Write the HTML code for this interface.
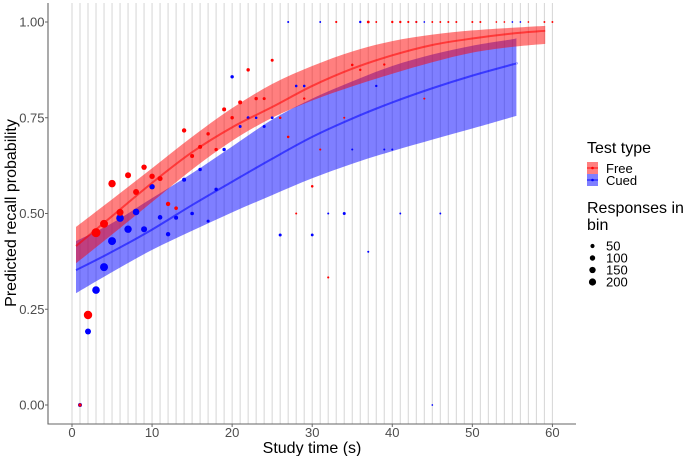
<!DOCTYPE html>
<html>
<head>
<meta charset="utf-8">
<style>
html,body{margin:0;padding:0;background:#fff;}
svg{display:block;font-family:"Liberation Sans",sans-serif;}
</style>
</head>
<body>
<svg id="chart" width="685" height="456" viewBox="0 0 685 456" xmlns="http://www.w3.org/2000/svg">
<rect width="685" height="456" fill="#fff"/>
<g id="grid"></g>
<g id="bands"></g>
<g id="points"></g>
<g id="lines"></g>
<g id="axes"></g>
<text x="312" y="453" font-size="16" text-anchor="middle" fill="#000">Study time (s)</text>
<text transform="translate(16,213) rotate(-90)" font-size="16" text-anchor="middle" fill="#000">Predicted recall probability</text>
<g>
<text x="587" y="153" font-size="16" fill="#000">Test type</text>
<rect x="587" y="162" width="11" height="12" fill="#ff0000" fill-opacity="0.5"/>
<line x1="587" x2="598" y1="168" y2="168" stroke="#ff0000" stroke-opacity="0.6" stroke-width="1.5"/>
<circle cx="592.5" cy="168" r="1.3" fill="#ff0000"/>
<text x="606" y="173" font-size="13" fill="#000">Free</text>
<rect x="587" y="174" width="11" height="12" fill="#0000ff" fill-opacity="0.5"/>
<line x1="587" x2="598" y1="180" y2="180" stroke="#0000ff" stroke-opacity="0.6" stroke-width="1.5"/>
<circle cx="592.5" cy="180" r="1.3" fill="#0000ff"/>
<text x="606" y="185" font-size="13" fill="#000">Cued</text>
</g>
<g id="size-legend">
<text x="587" y="213" font-size="16" fill="#000">Responses in</text>
<text x="587" y="230" font-size="16" fill="#000">bin</text>
</g>
<script>
// Axis tick labels
var xTicks = [0, 10, 20, 30, 40, 50, 60];
var yTicks = [0, 0.25, 0.5, 0.75, 1];
var gridSeconds = [0,1,2,3,4,5,6,7,8,9,10,11,12,13,14,15,16,17,18,19,20,21,22,23,24,25,26,27,28,29,30,31,32,33,34,35,36,37,38,39,40,41,42,43,44,45,46,47,48,49,50,51,52,53,54,55,56,57,58,59,60];

// Free-recall fit
var freeCurveTime = [0.5,5,10,15,20,25,30,35,40,45,50,55,59.1];
var freeCurveFit = [0.415,0.493,0.58,0.66,0.725,0.778,0.833,0.878,0.913,0.94,0.957,0.97,0.977];
var freeCurveUpper = [0.465,0.537,0.618,0.7,0.775,0.838,0.885,0.923,0.95,0.967,0.978,0.985,0.99];
var freeCurveLower = [0.37,0.445,0.53,0.615,0.69,0.75,0.795,0.832,0.865,0.895,0.92,0.935,0.943];

// Cued-recall fit
var cuedCurveTime = [0.5,5,10,15,20,25,30,35,40,45,50,55,55.5];
var cuedCurveFit = [0.352,0.4,0.458,0.522,0.583,0.643,0.7,0.748,0.79,0.827,0.86,0.889,0.891];
var cuedCurveUpper = [0.428,0.475,0.54,0.605,0.675,0.745,0.8,0.845,0.885,0.915,0.938,0.955,0.958];
var cuedCurveLower = [0.292,0.347,0.405,0.455,0.503,0.548,0.592,0.63,0.663,0.693,0.722,0.752,0.755];

// Free-recall bins
var freeTime = [1,2,3,4,5,6,7,8,9,10,11,12,13,14,15,16,17,18,19,20,21,22,23,24,25,26,27,28,29,30,31,32,33,34,35,36,37,38,39,40,41,42,43,44,45,46,47,48,50,51,53,54,57,59,60];
var freeProb = [0,0.235,0.45,0.473,0.578,0.503,0.6,0.556,0.621,0.597,0.591,0.525,0.514,0.717,0.65,0.674,0.708,0.667,0.772,0.75,0.79,0.875,0.8,0.8,0.9,0.75,0.7,0.5,0.8,0.571,0.667,0.333,1,0.75,0.888,0.875,1,1,0.889,1,1,1,1,0.8,1,1,1,1,1,1,1,1,1,1,1];
var freeCount = [17,225,264,200,167,146,100,100,77,77,63,44,25,44,34,34,21,21,34,21,34,21,21,14,14,8,8,3,6,8,4,4,4,3,8,6,11,2,6,6,6,4,4,3,2,2,3,3,3,3,1,1,1,2,2];

// Cued-recall bins
var cuedTime = [1,2,3,4,5,6,7,8,9,10,11,12,13,14,15,16,17,18,19,20,21,22,23,24,25,26,27,28,29,30,31,32,34,35,36,37,38,39,40,41,43,44,45,46,55,56];
var cuedProb = [0,0.192,0.3,0.36,0.428,0.488,0.459,0.504,0.459,0.57,0.49,0.446,0.489,0.588,0.5,0.615,0.48,0.563,0.667,0.857,0.727,0.75,0.75,0.727,0.75,0.444,1,0.833,0.833,0.444,1,0.5,0.5,0.667,1,0.4,0.833,0.667,0.667,0.5,1,1,0,0.5,1,1];
var cuedCount = [34,100,178,200,200,178,167,127,100,77,50,44,34,34,25,21,14,21,21,21,14,14,8,14,11,14,3,8,8,11,2,3,14,3,6,3,6,3,3,2,2,1,1,2,1,1];

// Legend sizes
var legendSizes = [50, 100, 150, 200];

var SVGNS = 'http://www.w3.org/2000/svg';
function xScale(t){ return 72 + t * 8.007; }
function yScale(p){ return 405 - p * 383; }
function rScale(n){ return 0.6 + 0.24 * Math.sqrt(n); }
function make(tag, parentId, attrs){
  var el = document.createElementNS(SVGNS, tag);
  for (var k in attrs) el.setAttribute(k, attrs[k]);
  document.getElementById(parentId).appendChild(el);
  return el;
}
// Smooth Catmull-Rom curve through the screen positions of the data samples
function splineSegments(ts, vs){
  var pts = ts.map(function(t, i){ return [xScale(t), yScale(vs[i])]; });
  var d = '';
  for (var i = 0; i < pts.length - 1; i++){
    var p0 = pts[Math.max(i - 1, 0)], p1 = pts[i], p2 = pts[i + 1], p3 = pts[Math.min(i + 2, pts.length - 1)];
    var c1x = p1[0] + (p2[0] - p0[0]) / 6, c1y = p1[1] + (p2[1] - p0[1]) / 6;
    var c2x = p2[0] - (p3[0] - p1[0]) / 6, c2y = p2[1] - (p3[1] - p1[1]) / 6;
    d += 'C' + c1x.toFixed(2) + ' ' + c1y.toFixed(2) + ' ' + c2x.toFixed(2) + ' ' + c2y.toFixed(2) + ' ' + p2[0].toFixed(2) + ' ' + p2[1].toFixed(2);
  }
  return d;
}
function linePath(ts, vs){
  return 'M' + xScale(ts[0]).toFixed(2) + ' ' + yScale(vs[0]).toFixed(2) + splineSegments(ts, vs);
}
function bandPath(ts, up, lo){
  var rt = ts.slice().reverse(), rl = lo.slice().reverse();
  return linePath(ts, up) + 'L' + xScale(rt[0]).toFixed(2) + ' ' + yScale(rl[0]).toFixed(2) + splineSegments(rt, rl) + 'Z';
}

gridSeconds.forEach(function(s){
  var g = make('line', 'grid', {x1: xScale(s), x2: xScale(s), y1: 3, y2: 424, stroke: '#d9d9d9', 'stroke-width': 1.1});
  
  
});

var cuedBand = make('path', 'bands', {d: bandPath(cuedCurveTime, cuedCurveUpper, cuedCurveLower), fill: '#0000ff', 'fill-opacity': 0.5});


var freeBand = make('path', 'bands', {d: bandPath(freeCurveTime, freeCurveUpper, freeCurveLower), fill: '#ff0000', 'fill-opacity': 0.5});



cuedTime.forEach(function(t, i){
  var c = make('circle', 'points', {cx: xScale(t), cy: yScale(cuedProb[i]), r: rScale(cuedCount[i]), fill: '#0000ff'});
  
  
});
freeTime.forEach(function(t, i){
  var c = make('circle', 'points', {cx: xScale(t), cy: yScale(freeProb[i]), r: rScale(freeCount[i]), fill: '#ff0000'});
  
  
});

var cuedLine = make('path', 'lines', {d: linePath(cuedCurveTime, cuedCurveFit), fill: 'none', stroke: '#0000ff', 'stroke-opacity': 0.55, 'stroke-width': 2});


var freeLine = make('path', 'lines', {d: linePath(freeCurveTime, freeCurveFit), fill: 'none', stroke: '#ff0000', 'stroke-opacity': 0.55, 'stroke-width': 2});



var yAxis = make('line', 'axes', {x1: 48, x2: 48, y1: 3, y2: 424.5, stroke: '#666', 'stroke-width': 1.1});


var xAxis = make('line', 'axes', {x1: 48, x2: 576, y1: 424, y2: 424, stroke: '#666', 'stroke-width': 1.1});



xTicks.forEach(function(t){
  var m = make('line', 'axes', {x1: xScale(t), x2: xScale(t), y1: 424, y2: 427, stroke: '#666', 'stroke-width': 1});
  
  
  var l = make('text', 'axes', {x: xScale(t), y: 437, 'font-size': 13, 'text-anchor': 'middle', fill: '#4d4d4d'});
  
  
  l.textContent = String(t);
});
yTicks.forEach(function(p){
  var m = make('line', 'axes', {x1: 45, x2: 48, y1: yScale(p), y2: yScale(p), stroke: '#666', 'stroke-width': 1});
  
  
  var l = make('text', 'axes', {x: 44.5, y: yScale(p) + 4.6, 'font-size': 13, 'text-anchor': 'end', fill: '#4d4d4d'});
  
  
  l.textContent = p.toFixed(2);
});

legendSizes.forEach(function(n, i){
  var c = make('circle', 'size-legend', {cx: 592.5, cy: 246 + i * 12, r: rScale(n) * 0.9, fill: '#000'});
  
  
  var l = make('text', 'size-legend', {x: 606, y: 250.5 + i * 12, 'font-size': 13, fill: '#000'});
  
  
  l.textContent = String(n);
});
</script>
</svg>
</body>
</html>
